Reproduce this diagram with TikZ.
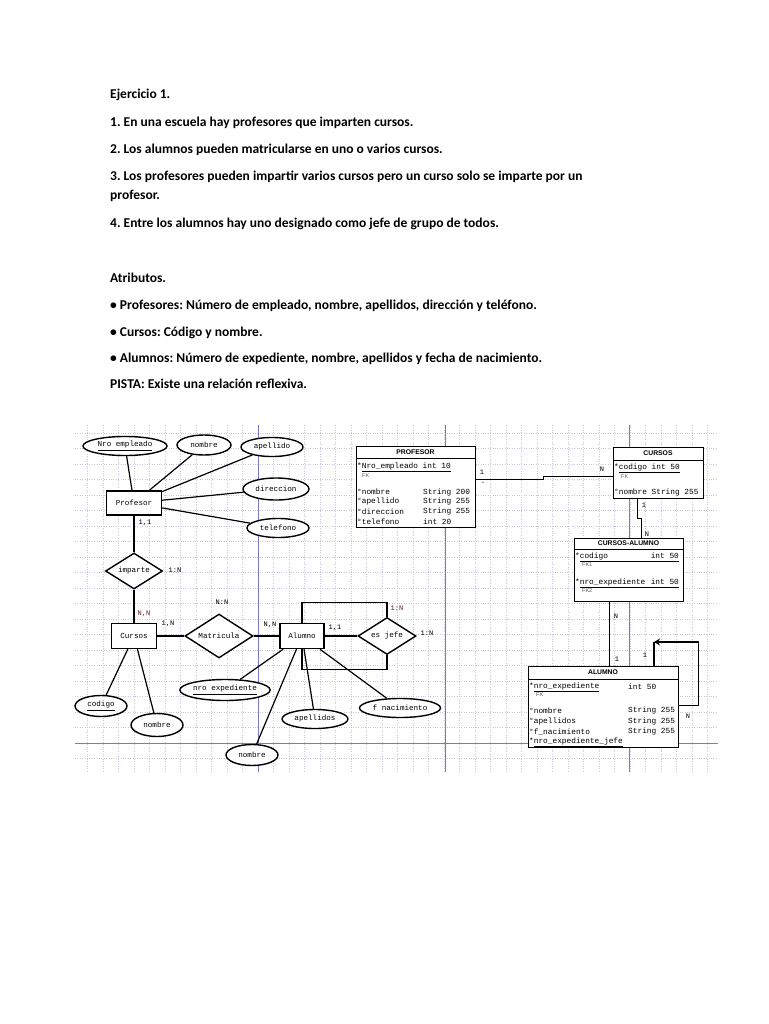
\documentclass[tikz,border=0pt]{standalone}
\usepackage{fontspec}
\setmainfont{Carlito}
\newfontfamily\ermono{Liberation Mono}
\newfontfamily\tabhead{Liberation Sans}
\usetikzlibrary{arrows.meta,positioning,shapes.geometric}
\frenchspacing

\definecolor{pageblue}{RGB}{120,120,205}
\definecolor{gridgray}{RGB}{200,200,216}
\definecolor{fkgray}{RGB}{90,90,90}
\definecolor{cardred}{RGB}{105,30,30}

\begin{document}
\begin{tikzpicture}[
  x=1pt,y=-1pt,
  txt/.style={anchor=base west,inner sep=0pt,font=\bfseries\fontsize{13.5}{16}\selectfont},
  ent/.style={draw,fill=white,line width=1.4pt,inner sep=0pt,font=\ermono\fontsize{7.6}{8}\selectfont},
  attr/.style={draw,fill=white,ellipse,line width=1.4pt,inner sep=0pt,font=\ermono\fontsize{7.6}{8}\selectfont},
  rel/.style={draw,fill=white,diamond,shape aspect=1.6,line width=1.4pt,inner sep=0pt,font=\ermono\fontsize{7.6}{8}\selectfont},
  card/.style={inner sep=0pt,font=\ermono\fontsize{7}{8}\selectfont},
  edge/.style={line width=1.2pt},
  tbl/.style={draw,fill=white,line width=1.3pt,anchor=north west,inner sep=0pt},
  thead/.style={inner sep=0pt,font=\tabhead\bfseries\fontsize{6.8}{8}\selectfont},
  col/.style={anchor=west,inner sep=0pt,font=\ermono\fontsize{7.8}{9}\selectfont},
  fk/.style={anchor=west,inner sep=0pt,text=fkgray,font=\tabhead\fontsize{5.5}{6}\selectfont},
  rline/.style={line width=1.4pt},
  gridline/.style={gridgray,line width=0.4pt,dotted}
]
\useasboundingbox[fill=white] (0,0) rectangle (768,1024);

% exercise text
\node[txt] (t0) at (110,99) {Ejercicio 1.};
\node[txt] (t1) at (110,127) {1. En una escuela hay profesores que imparten cursos.};
\node[txt] (t2) at (110,154) {2. Los alumnos pueden matricularse en uno o varios cursos.};
\node[txt] (t3) at (110,181) {3. Los profesores pueden impartir varios cursos pero un curso solo se imparte por un};
\node[txt] (t3b) at (110,200) {profesor.};
\node[txt] (t4) at (110,227) {4. Entre los alumnos hay uno designado como jefe de grupo de todos.};
\node[txt] (t5) at (110,282) {Atributos.};
\node[txt] (t6) at (110,309) {• Profesores: Número de empleado, nombre, apellidos, dirección y teléfono.};
\node[txt] (t7) at (110,336) {• Cursos: Código y nombre.};
\node[txt] (t8) at (110,362) {• Alumnos: Número de expediente, nombre, apellidos y fecha de nacimiento.};
\node[txt] (t9) at (110,388) {PISTA: Existe una relación reflexiva.};

% grid and page lines
\begin{scope}
\clip (75,425) rectangle (718,772);
\foreach \k in {-12,...,30} \draw[gridline] ({258+15.5*\k},425) -- ({258+15.5*\k},772);
\foreach \k in {-21,...,2} \draw[gridline] (75,{743+15.5*\k}) -- (718,{743+15.5*\k});
\end{scope}
\draw[pageblue,line width=0.8pt] (258,425) -- (258,772) (445,425) -- (445,772)
  (629,425) -- (629,772) (75,743) -- (718,743);

% E-R model
\node[ent,minimum width=55,minimum height=24] (prof) at (134,503) {Profesor};
\node[attr,minimum width=84,minimum height=19] (anro) at (125,446) {\underline{Nro empleado}};
\node[attr,minimum width=54,minimum height=20] (anom) at (204,445) {nombre};
\node[attr,minimum width=62,minimum height=19] (aape) at (272,447) {apellido};
\node[attr,minimum width=66,minimum height=22] (adir) at (276,489) {direccion};
\node[attr,minimum width=62,minimum height=19] (atel) at (278,528) {telefono};
\node[rel,minimum width=57,minimum height=36] (imp) at (134,571) {imparte};
\node[ent,minimum width=45,minimum height=25] (cur) at (134,636) {Cursos};
\node[attr,minimum width=52,minimum height=21] (cod) at (101,706) {\underline{codigo}};
\node[attr,minimum width=52,minimum height=23] (cnom) at (157,725) {nombre};
\node[rel,minimum width=68,minimum height=44] (mat) at (219,636) {Matricula};
\node[ent,minimum width=44,minimum height=25] (alu) at (302,636) {Alumno};
\node[rel,minimum width=58,minimum height=37] (jefe) at (387,636) {es jefe};
\node[attr,minimum width=90,minimum height=21] (anex) at (225,690) {\underline{nro expediente}};
\node[attr,minimum width=52,minimum height=21] (alnom) at (252,755) {nombre};
\node[attr,minimum width=66,minimum height=19] (alape) at (315,719) {apellidos};
\node[attr,minimum width=81,minimum height=19] (fnac) at (400,708) {f nacimiento};

\draw[edge] (prof) -- (anro);
\draw[edge] (prof) -- (anom);
\draw[edge] (prof) -- (aape);
\draw[edge] (prof) -- (adir);
\draw[edge] (prof) -- (atel);
\draw[edge] (prof) -- (imp) -- (cur);
\draw[edge] (cur) -- (cod);
\draw[edge] (cur) -- (cnom);
\draw[edge] (cur) -- (mat) -- (alu) -- (jefe);
\draw[edge] (alu.north) -- ++(0,-20.5) -| (jefe.north);
\draw[edge] (alu.south) -- ++(0,20) -| (jefe.south);
\draw[edge] (alu) -- (anex);
\draw[edge] (alu) -- (alnom);
\draw[edge] (alu) -- (alape);
\draw[edge] (alu) -- (fnac);

\node[card] (k1) at (145,523) {1,1};
\node[card] (k2) at (175,570) {1:N};
\node[card,text=cardred] (k3) at (144,614) {N,N};
\node[card] (k4) at (168,624) {1,N};
\node[card] (k5) at (222,602) {N:N};
\node[card] (k6) at (270,625) {N,N};
\node[card] (k7) at (335,628) {1,1};
\node[card,text=cardred] (k8) at (397,608) {1:N};
\node[card] (k9) at (427,633) {1:N};

% relational model
\node[tbl,minimum width=119,minimum height=81] (tprof) at (356,446) {};
\node[thead] (hprof) at (415.5,452) {PROFESOR};
\draw[line width=0.8pt] (tprof.north west) ++(0,12) -- ++(119,0);
\node[col] (pk) at (357,467) {*\underline{Nro\_empleado int 10}};
\node[fk] (pkfk) at (362,476) {FK};
\foreach \a/\b [count=\i] in {nombre/String 200,apellido/String 255,direccion/String 255,telefono/int 20}
{
  \node[col] (pa\i) at (357,{482.5+9.7*\i}) {°\a};
  \node[col] (pb\i) at (423,{482.5+9.7*\i}) {\b};
}

\node[tbl,minimum width=90,minimum height=51] (tcur) at (613,447) {};
\node[thead] (hcur) at (658,453.5) {CURSOS};
\draw[line width=0.8pt] (tcur.north west) ++(0,13) -- ++(90,0);
\node[col] (ck) at (614,468) {*\underline{codigo int 50}};
\node[fk] (ckfk) at (621,477) {FK};
\node[col] (cn) at (614,492) {°nombre String 255};

\node[tbl,minimum width=109,minimum height=63] (tca) at (574,538) {};
\node[thead] (hca) at (628.5,543.5) {CURSOS-ALUMNO};
\draw[line width=0.8pt] (tca.north west) ++(0,11) -- ++(109,0);
\node[col] (cak1) at (575,557) {*\underline{\makebox[99pt][l]{codigo\hfill int 50}}};
\node[fk] (cafk1) at (582,565) {FK1};
\node[col] (cak2) at (575,583) {*\underline{\makebox[99pt][l]{nro\_expediente\hfill int 50}}};
\node[fk] (cafk2) at (582,591) {FK2};

\node[tbl,minimum width=150,minimum height=81] (talu) at (528,666) {};
\node[thead] (halu) at (603,672.5) {ALUMNO};
\draw[line width=0.8pt] (talu.north west) ++(0,13) -- ++(150,0);
\node[col] (ak) at (529,687) {*\underline{nro\_expediente}};
\node[col] (akt) at (628,687) {int 50};
\node[fk] (akfk) at (536,695) {FK};
\foreach \a [count=\i] in {nombre,apellidos,f\_nacimiento}
{
  \node[col] (aa\i) at (529,{700.5+10.4*\i}) {°\a};
  \node[col] (ab\i) at (628,{700.5+10.4*\i}) {String 255};
}
\node[col] (aj) at (529,742) {*\underline{nro\_expediente\_jefe}};

\draw[rline] ([yshift=7.5pt]tprof.east) -- ++(67,0) |- ([yshift=-3.5pt]tcur.west);
\draw[rline] ([xshift=-21pt]tcur.south) -- ++(0,19) -| ([xshift=12.5pt]tca.north);
\draw[rline] ([xshift=-19.5pt]tca.south) -- ([xshift=6pt]talu.north);
\coordinate (loopc) at (654,642);
\draw[rline,-{Stealth[length=6pt,width=7pt]}] ([yshift=1.5pt]talu.east) -- ++(19,0) |- (loopc);
\draw[rline] (loopc) -- (loopc |- talu.north);

\node[card] (r1) at (482,472) {1};
\node[card] (r1b) at (483,483) {-};
\node[card] (r2) at (602,469) {N};
\node[card] (r3) at (644,505) {1};
\node[card] (r4) at (647,534) {N};
\node[card] (r5) at (616,616) {N};
\node[card] (r6) at (617,659) {1};
\node[card] (r7) at (645,655) {1};
\node[card] (r8) at (688,716) {N};
\end{tikzpicture}
\end{document}
